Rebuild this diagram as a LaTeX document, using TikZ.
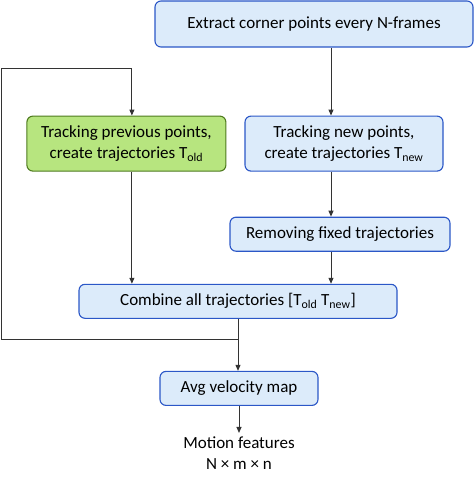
\documentclass[tikz,border=0pt]{standalone}
\usepackage{fontspec}
\setmainfont{Carlito}
\usepackage{xcolor}
\usetikzlibrary{arrows.meta,positioning,calc}
\definecolor{boxblue}{HTML}{DCEBFA}
\definecolor{edgeblue}{HTML}{2B57C7}
\definecolor{boxgreen}{HTML}{B7E57F}
\definecolor{edgegreen}{HTML}{4E7A1E}
\definecolor{wire}{HTML}{333333}

\begin{document}
\begin{tikzpicture}[
  x=1pt,y=1pt,
  font=\fontsize{17}{21}\selectfont,
  stage/.style={rounded corners=6pt,draw=edgeblue,fill=boxblue,line width=1.1pt,align=center,minimum height=34pt,inner sep=2pt},
  oldstage/.style={rounded corners=6pt,draw=edgegreen,fill=boxgreen,line width=1.1pt,align=center,minimum width=199pt,minimum height=55pt,inner sep=2pt},
  arr/.style={-{Triangle[length=6pt,width=5pt]},line width=1pt,draw=wire}
]
\useasboundingbox (0,0) rectangle (474,-485);

\node[stage,minimum width=318pt,minimum height=46pt] (extract) at (314,-24) {Extract corner points every N-frames};
\node[stage,minimum width=198pt,minimum height=55pt,below=68pt of extract,xshift=30pt] (tnew) {Tracking new points,\\create trajectories T\textsubscript{new}};
\node[oldstage,left=18pt of tnew] (told) {Tracking previous points,\\create trajectories T\textsubscript{old}};
\node[stage,minimum width=220pt,below=45pt of tnew,xshift=-4pt] (remove) {Removing fixed trajectories};
\node[stage,minimum width=318pt,below=32pt of remove,xshift=-102pt] (combine) {Combine all trajectories [T\textsubscript{old} T\textsubscript{new}]};
\node[stage,minimum width=158pt,below=52pt of combine,xshift=1pt] (avg) {Avg velocity map};
\node[align=center,below=27pt of avg] (motion) {Motion features\\N × m × n};

\coordinate (split) at ($(combine.south)+(0,-21)$);
\coordinate (loopcorner) at (1,-68);

\draw[arr] ([xshift=-13pt]tnew.north |- extract.south) -- ([xshift=-13pt]tnew.north);
\draw[arr] ([xshift=-13pt]tnew.south) -- ([xshift=-13pt]tnew.south |- remove.north);
\draw[arr] ([xshift=-9pt]remove.south) -- ([xshift=-9pt]remove.south |- combine.north);
\draw[arr] ([xshift=5.5pt]told.south) -- ([xshift=5.5pt]told.south |- combine.north);
\draw[arr] (combine.south) -- (combine.south |- avg.north);
\draw[arr] (split) -| (loopcorner) -| ([xshift=5.5pt]told.north);
\draw[arr] (avg.south) -- (motion.north);
\end{tikzpicture}
\end{document}
